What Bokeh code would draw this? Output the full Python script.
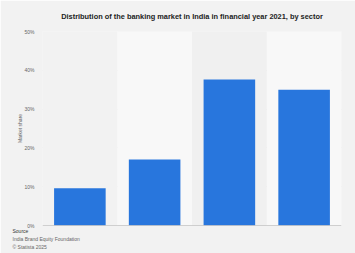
from bokeh.plotting import figure
from bokeh.models import Title, Span, FactorRange, Range1d, FixedTicker
from bokeh.embed import file_html
from bokeh.resources import INLINE

sectors = ["Foreign banks", "Regional rural & cooperative banks", "Private sector banks", "Public sector banks"]
market_share = [9.6, 17.0, 37.6, 35.0]
y_ticks = [0, 10, 20, 30, 40, 50]
y_tick_labels = {0: "0%", 10: "10%", 20: "20%", 30: "30%", 40: "40%", 50: "50%"}
band_colors = ["#f2f2f2", "#f8f8f8", "#f0f0f0", "#f8f8f8"]
source_lines = ["Source", "India Brand Equity Foundation", "© Statista 2025"]

FONT = "Liberation Sans"

p = figure(width=355, height=253, x_range=FactorRange(*sectors, range_padding=0),
           y_range=Range1d(0, 50), output_backend="svg", toolbar_location=None,
           min_border_left=42, min_border_right=14, min_border_top=31, min_border_bottom=28)
p.background_fill_color = "#f2f2f2"
p.border_fill_color = "#f2f2f2"
p.outline_line_color = None

p.title.text = "Distribution of the banking market in India in financial year 2021, by sector"
p.title.align = "center"
p.title.vertical_align = "top"
p.title.text_font = FONT
p.title.text_font_size = "7.4px"
p.title.text_font_style = "bold"
p.title.text_color = "#222222"
p.title.standoff = 18

p.vbar(x=sectors, top=[50] * 4, bottom=0, width=1.0, color=band_colors, line_color=None)
p.vbar(x=sectors, top=market_share, width=0.69, color="#2876dd", line_color=None)

p.xaxis.visible = False
p.xgrid.grid_line_color = None
p.ygrid.grid_line_color = "#e3e3e3"
p.ygrid.ticker = FixedTicker(ticks=y_ticks)

ya = p.yaxis[0]
ya.ticker = FixedTicker(ticks=y_ticks)
ya.major_label_overrides = y_tick_labels
ya.axis_line_color = None
ya.major_tick_line_color = None
ya.minor_tick_line_color = None
ya.major_tick_out = 0
ya.major_tick_in = 0
ya.minor_tick_out = 0
ya.minor_tick_in = 0
ya.major_label_text_font = FONT
ya.major_label_text_font_size = "5px"
ya.major_label_text_color = "#666666"
ya.major_label_standoff = 8
ya.axis_label = "Market share"
ya.axis_label_text_font = FONT
ya.axis_label_text_font_size = "5px"
ya.axis_label_text_font_style = "normal"
ya.axis_label_text_color = "#666666"
ya.axis_label_standoff = -2

p.add_layout(Span(location=0, dimension="width", line_color="#aaaaaa", line_width=1))

for txt, col in zip(source_lines, ["#333333", "#666666", "#666666"]):
    p.add_layout(Title(text=txt, align="left", text_font=FONT, text_font_size="5px",
                       text_font_style="normal", text_color=col, offset=-30, standoff=0), "below")

open("out.html", "w").write(file_html(p, INLINE))
